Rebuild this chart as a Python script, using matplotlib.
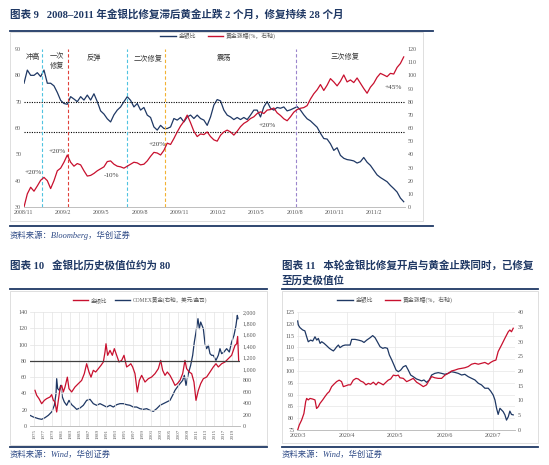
import matplotlib
matplotlib.use('Agg')
import matplotlib.pyplot as plt
from matplotlib.lines import Line2D
from matplotlib.patches import Rectangle
import pandas as pd

plt.rcParams['font.family'] = ['Liberation Serif', 'Noto Sans CJK SC']

NAVY = '#1F3864'
RED = '#C8102E'
GRAY = '#595959'

# ---------------- chart 9 data (weekly readings) ----------------
ratio_9 = [77, 82, 80, 80, 81, 79.5, 82, 77, 77, 76,
           73.5, 70.5, 69.3, 69, 71.9, 71, 70, 71.9, 70.6, 72.5,
           70.6, 73, 70, 66.5, 65.3, 63.5, 62.3, 65, 66.8, 68,
           70, 71.9, 70.5, 68, 69.3, 66.8, 67.8, 64.9, 64, 60.4,
           59.2, 61, 59.8, 59.8, 60.4, 63.6, 63, 64, 62.3, 64.2,
           64.9, 63.6, 64.9, 63.6, 63, 61, 64.2, 68.7, 70.8, 70.3,
           66.8, 64.9, 64.2, 63.2, 64, 63.2, 64, 63.2, 64.9, 66.8,
           66.8, 64.2, 68, 70, 67.5, 66.8, 67.8, 67.5, 68, 66.5,
           66.9, 67.5, 68.1, 66.8, 65, 63.5, 62.7, 61.5, 60.3, 58,
           56, 55.8, 54, 51.5, 52.5, 49.6, 48.5, 48, 47.8, 47.5,
           46.7, 47.2, 48.8, 47, 45.8, 44, 42.2, 41.2, 40.4, 39.6,
           38.2, 37, 35.7, 33.4, 32]
gold_9 = [0, 10, 15, 12, 16, 20.3, 22.5, 20, 14, 20,
          27.5, 29.5, 34, 39.5, 34, 31, 33, 32, 27.5, 23.5,
          24, 25.5, 27.5, 29, 30.5, 34.5, 35, 32.5, 31, 30.5,
          29.5, 31, 32.5, 34, 33.5, 32, 32.5, 35, 38.5, 41.5,
          41, 39.5, 43, 48.5, 47.5, 52, 57, 61.5, 65, 69.8,
          64, 57.5, 53.5, 55.5, 55, 57, 53.5, 51, 50, 54.5,
          57, 58.4, 57, 54.6, 57.5, 61, 63.5, 65, 67.2, 68.5,
          71, 72.3, 71, 73.6, 74, 75.2, 71.5, 69.5, 67, 65.5,
          68.5, 72, 74, 75, 75.5, 77, 82, 86, 89, 93,
          88.5, 92.5, 97.5, 95, 92, 95.5, 100.3, 95, 96.5, 94.5,
          98, 94, 90, 86.4, 91, 94, 98.5, 101.5, 100.3, 99,
          101.5, 101, 106, 109, 114]
dates_9 = pd.date_range('2008-11-01', periods=len(ratio_9), freq='188h')
ticks_9 = ['2008-11-01', '2009-02-01', '2009-05-01', '2009-08-01', '2009-11-01',
           '2010-02-01', '2010-05-01', '2010-08-01', '2010-11-01', '2011-02-01']
ticklabels_9 = ['2008/11', '2009/2', '2009/5', '2009/8', '2009/11',
                '2010/2', '2010/5', '2010/8', '2010/11', '2011/2']
phase_dates_9 = ['2008-12-13', '2009-02-12', '2009-07-01', '2009-09-29', '2010-08-03']
phase_colors_9 = ['#4FC3E0', '#E0403A', '#4FC3E0', '#F2B233', '#9B85CC']
phase_names_9 = [('冲高', '2008-11-22', 87.1), ('一次\n修复', '2009-01-17', 85.8),
                 ('反弹', '2009-04-15', 86.8), ('二次修复', '2009-08-21', 86.5),
                 ('震荡', '2010-02-14', 86.8), ('三次修复', '2010-11-26', 87.1)]
gains_9 = [('+20%', '2008-11-22', 43), ('+20%', '2009-01-18', 51),
           ('-10%', '2009-05-26', 42.1), ('+20%', '2009-09-10', 53.8),
           ('+20%', '2010-05-27', 61.1), ('+45%', '2011-03-20', 75.5)]

# ---------------- chart 10 data ----------------
ratio_10_year = [1975.11, 1975.48, 1976.0, 1976.59, 1977.19, 1977.7, 1978.44, 1978.81,
                 1979.19, 1979.56, 1979.93, 1980.3, 1980.67, 1981.04, 1981.41, 1981.78,
                 1982.3, 1982.67, 1983.26, 1984.0, 1984.74, 1985.48, 1986.07, 1986.59,
                 1987.11, 1987.56, 1988.07, 1988.59, 1989.19, 1989.78, 1990.3, 1990.67,
                 1990.89, 1991.26, 1991.78, 1992.3, 1992.74, 1993.26, 1993.78, 1994.37,
                 1994.89, 1995.48, 1996.0, 1996.4, 1996.81, 1997.33, 1997.85, 1998.3,
                 1998.81, 1999.56, 2000.3, 2001.04, 2001.78, 2002.52, 2003.04, 2003.48,
                 2004.0, 2004.52, 2005.11, 2005.7, 2006.22, 2006.74, 2007.33, 2007.93,
                 2008.44, 2008.81, 2009.41, 2009.93, 2010.44, 2010.89, 2011.41, 2011.93,
                 2012.52, 2013.26, 2014.0, 2014.74, 2015.33, 2015.85, 2016.59, 2017.33,
                 2018.07, 2018.81, 2019.56, 2019.93, 2020.15, 2020.37]
ratio_10 = [43.8, 37.7, 33.6, 27.4, 31.5, 33.6, 35.6, 38.5,
            31.5, 29.5, 17.2, 31.5, 45.8, 49.9, 41.8, 47.9,
            60, 45.8, 41.8, 47.9, 52, 56, 64.3, 76.5,
            66.3, 60, 68.4, 66.3, 70.4, 74.5, 78.6, 90.9,
            101, 86.8, 92.9, 86.8, 95, 86.8, 78.6, 80.6,
            86.8, 72.5, 74.5, 76.5, 72.5, 64.3, 41.8, 56,
            62.2, 54, 58.1, 60.2, 64.3, 70.4, 80.6, 68.4,
            62.2, 66.3, 62.2, 56, 49.9, 52, 56, 64.3,
            80.6, 70.4, 66.3, 64.3, 54, 31.5, 43.8, 52,
            58.1, 60.2, 66.3, 72.5, 76.5, 72.5, 76.5, 78.6,
            82.7, 86.8, 99, 101, 110, 80.6]
gold_10_year = [1974.0, 1974.74, 1975.85, 1976.59, 1977.33, 1978.07, 1978.81, 1979.41,
                1979.78, 1979.93, 1980.15, 1980.52, 1980.81, 1981.19, 1981.63, 1982.15,
                1982.67, 1983.26, 1983.85, 1984.37, 1985.11, 1985.85, 1986.59, 1987.33,
                1988.07, 1988.81, 1989.56, 1990.3, 1991.04, 1991.78, 1992.52, 1993.26,
                1994.0, 1994.74, 1995.48, 1996.22, 1996.96, 1997.7, 1998.44, 1999.19,
                1999.93, 2000.67, 2001.41, 2002.15, 2002.89, 2003.63, 2004.37, 2005.11,
                2005.7, 2006.22, 2006.74, 2007.33, 2007.93, 2008.3, 2008.67, 2009.19,
                2009.7, 2010.15, 2010.52, 2010.89, 2011.33, 2011.63, 2011.93, 2012.22,
                2012.52, 2012.89, 2013.26, 2013.63, 2014.0, 2014.37, 2014.74, 2015.33,
                2015.85, 2016.22, 2016.59, 2017.11, 2017.7, 2018.3, 2018.81, 2019.33,
                2019.78, 2020.07, 2020.22]
gold_10 = [187, 158, 129, 117, 146, 187, 246, 363,
           567, 830, 655, 626, 713, 509, 421, 363,
           450, 374, 333, 292, 316, 363, 450, 468,
           392, 363, 392, 363, 333, 363, 333, 374,
           392, 392, 374, 363, 333, 333, 304, 292,
           304, 275, 257, 304, 363, 392, 421, 450,
           538, 626, 684, 743, 801, 889, 713, 918,
           1064, 1240, 1473, 1649, 1883, 1707, 1824, 1766,
           1707, 1444, 1357, 1415, 1269, 1240, 1240, 1152,
           1240, 1357, 1269, 1298, 1357, 1298, 1473, 1590,
           1766, 1941, 1883]
years_10 = list(range(1975, 2020, 2))

# ---------------- chart 11 data (days after 2020-03-19) ----------------
ratio_11_day = [0, 0.4, 1.4, 3.1, 4.5, 5.6, 6.6, 8.1, 9.4, 10.8, 11.9, 12.9, 14.0, 15.0,
                16.5, 18.1, 19.8, 21.3, 22.3, 23.3, 24.4, 25.4, 26.4, 28.1, 29.6, 32.7,
                33.7, 35.8, 37.9, 40.0, 41.4, 43.1, 45.2, 46.8, 48.3, 49.7, 51.4, 53.1,
                54.5, 56.0, 57.2, 58.7, 60.1, 61.4, 62.8, 64.3, 65.9, 67.5, 69.0, 70.5,
                72.1, 74.2, 75.9, 77.3, 78.8, 80.4, 82.1, 83.6, 85.6, 87.7, 89.8, 91.9,
                93.9, 96.0, 98.1, 100.2, 102.3, 104.3, 106.4, 108.5, 110.6, 112.7, 114.7,
                116.8, 118.9, 120.4, 122.0, 123.1, 124.1, 125.1, 126.2, 127.2, 128.2,
                129.3, 130.3, 131.4, 132.4, 133.4, 134.5]
ratio_11 = [121.2, 119.5, 118.4, 117.4, 117, 114.5, 112.4, 113.1, 112.7, 114.5, 113.1,
            113.8, 111.7, 112.4, 111.7, 110.7, 109.6, 108.9, 108.5, 109.3, 110.3, 111,
            109.9, 110.7, 111, 111, 113.4, 113.4, 113.1, 112.7, 112.1, 113.1, 114.1, 115,
            114.1, 112.4, 110.3, 109.6, 109.9, 109.6, 106.8, 104.7, 102.5, 100.4, 99.7,
            100.4, 101.8, 102.3, 100.4, 98.3, 97.6, 96.6, 96.2, 95.8, 96.2, 95.2, 96.2,
            98.3, 99, 99.3, 99, 98.6, 99, 99.7, 99.4, 99, 98.3, 98.6, 97.6, 96.9, 96.2,
            94.8, 94.1, 92.7, 92.7, 91.5, 89.8, 87.7, 84.2, 81.6, 84.2, 83.5, 82.8, 81.4,
            79.2, 80.6, 83, 81.6, 81.4]
gold_11_day = [0, 1.0, 2.5, 3.9, 5.0, 5.6, 6.6, 7.7, 9.3, 10.8, 11.8, 12.9, 13.9, 15.6,
               17.0, 18.5, 19.7, 21.2, 22.6, 24.3, 25.9, 27.4, 28.5, 30.1, 31.6, 33.0,
               34.7, 36.4, 37.8, 39.3, 41.0, 42.6, 44.1, 45.5, 47.2, 48.9, 50.3, 51.8,
               53.4, 55.1, 56.5, 58.0, 59.7, 61.3, 62.8, 63.8, 65.9, 68.0, 70.0, 72.1,
               74.2, 76.3, 78.4, 80.4, 82.1, 83.6, 85.6, 87.7, 89.8, 91.9, 93.9, 96.0,
               98.1, 100.2, 102.3, 104.3, 106.4, 108.5, 110.6, 112.7, 114.7, 116.8,
               118.9, 120.4, 122.0, 123.7, 125.1, 127.2, 129.3, 131.4, 132.4, 133.4, 134.5]
gold_11 = [0, 1.7, 3.4, 5.6, 9.6, 10.7, 10.2, 10.7, 10.5, 10.2, 7.3, 7.9, 9, 10.2,
           11.3, 12.4, 13, 14.7, 15.5, 16.4, 16.9, 16.4, 14.7, 15, 15.3, 15.3,
           16.9, 17.5, 17.3, 16.6, 16.2, 15.3, 15.8, 15.5, 16.2, 15.3, 16.2, 15.8,
           15.3, 16.2, 16.9, 17.3, 18.6, 18.4, 18.6, 17.7, 17.5, 16.4, 16.9, 17.5,
           16.2, 15.5, 14.7, 15.3, 16.9, 18.1, 17.7, 17.5, 17.5, 18.6, 19.2, 20,
           20.3, 20.7, 20.9, 21.1, 21.5, 22.3, 22.6, 22.3, 22.6, 22.9,
           22.3, 22.9, 23.4, 23.7, 26.6, 28.8, 31.1, 33.3, 33.9, 33.3, 34.5]
start_11 = pd.Timestamp('2020-03-19')
ticks_11 = ['2020-03-19', '2020-04-19', '2020-05-19', '2020-06-19', '2020-07-19']
ticklabels_11 = ['2020/3', '2020/4', '2020/5', '2020/6', '2020/7']

# ---------------- figure layout helpers (pixels) ----------------
W, H = 549, 465
fig = plt.figure(figsize=(W / 100, H / 100), dpi=100)


def rect(l, t, r, b):
    return [l / W, 1 - b / H, (r - l) / W, (b - t) / H]


def hline(x0, x1, y, color=NAVY, lw=1.3):
    fig.add_artist(Line2D([x0 / W, x1 / W], [1 - y / H, 1 - y / H],
                          color=color, lw=lw, transform=fig.transFigure))


def box(l, t, r, b):
    fig.add_artist(Rectangle((l / W, 1 - b / H), (r - l) / W, (b - t) / H, fill=False,
                             ec='#D9D9D9', lw=0.6, transform=fig.transFigure))


def ftext(x, y, s, **kw):
    fig.text(x / W, 1 - y / H, s, transform=fig.transFigure, **kw)


title_kw = dict(fontsize=7.6, fontweight='bold', color=NAVY, va='center', ha='left')
src_kw = dict(fontsize=6, color='#2E4A86', style='italic', va='center', ha='left')


def style_axes(ax, axr):
    for a in (ax, axr):
        for s in ('top', 'left', 'right'):
            a.spines[s].set_visible(False)
        a.spines['bottom'].set_color('#BFBFBF')
        a.spines['bottom'].set_linewidth(0.6)
        a.tick_params(length=0, labelsize=4.3, colors=GRAY, pad=2)


def legend(ax, colors, labels, x, y, size=4.2, spacing=2.0):
    handles = [Line2D([], [], color=c, lw=1) for c in colors]
    ax.legend(handles, labels, loc='center', bbox_to_anchor=(x / W, 1 - y / H),
              bbox_transform=fig.transFigure, ncol=2, frameon=False,
              prop={'size': size}, labelcolor=GRAY, handlelength=2.6,
              columnspacing=spacing, handletextpad=0.5)


# ---------------- chart 9 ----------------
ftext(10, 14, '图表 9   2008–2011 年金银比修复滞后黄金止跌 2 个月，修复持续 28 个月', **title_kw)
hline(10, 433, 31)
box(10, 32, 423, 221)
hline(10, 433, 226)
ftext(10, 235, '资料来源：Bloomberg，华创证券', **src_kw)

ax9 = fig.add_axes(rect(24, 49, 405, 207))
ax9r = ax9.twinx()
ax9.plot(dates_9, ratio_9, color=NAVY, lw=0.9)
ax9r.plot(dates_9, gold_9, color=RED, lw=0.9)
ax9.set_ylim(30, 90)
ax9.set_yticks(range(30, 91, 10))
ax9r.set_ylim(0, 120)
ax9r.set_yticks(range(0, 121, 10))
ax9.set_xlim(pd.Timestamp('2008-11-01'), pd.Timestamp('2011-04-16'))
ax9.set_xticks(pd.to_datetime(ticks_9))
ax9.set_xticklabels(ticklabels_9)
ax9.axhline(70, color='black', ls=(0, (1, 1.2)), lw=0.8)
ax9.axhline(58.5, color='black', ls=(0, (1, 1.2)), lw=0.8)
for d, c in zip(phase_dates_9, phase_colors_9):
    ax9.axvline(pd.Timestamp(d), color=c, ls=(0, (3, 2)), lw=0.8)
for s, d, v in phase_names_9:
    ax9.text(pd.Timestamp(d), v, s, ha='center', va='center', fontsize=5.2,
             color='#333333', linespacing=1.5)
for s, d, v in gains_9:
    ax9.text(pd.Timestamp(d), v, s, ha='center', va='center', fontsize=5.2, color='#404040')
style_axes(ax9, ax9r)
legend(ax9, [NAVY, RED], ['金银比', '黄金涨幅(%，右轴)'], 218, 36)

# ---------------- chart 10 ----------------
ftext(10, 265, '图表 10   金银比历史极值位约为 80', **title_kw)
hline(10, 267, 289)
box(10, 291, 267, 445)
hline(10, 267, 447)
ftext(10, 455, '资料来源：Wind，华创证券', **src_kw)

ax10 = fig.add_axes(rect(30, 312, 240, 426))
ax10r = ax10.twinx()
ax10.plot(ratio_10_year, ratio_10, color=RED, lw=0.9, zorder=3)
ax10r.plot(gold_10_year, gold_10, color=NAVY, lw=0.9)
ax10.set_zorder(ax10r.get_zorder() + 1)
ax10.patch.set_visible(False)
ax10.set_ylim(0, 140)
ax10.set_yticks(range(0, 141, 20))
ax10r.set_ylim(0, 2000)
ax10r.set_yticks(range(0, 2001, 200))
ax10r.set_yticklabels([f'{v:,}' for v in range(0, 2001, 200)])
ax10.set_xlim(1974, 2020.67)
ax10.set_xticks(years_10)
ax10.set_xticklabels([str(y) for y in years_10], rotation=90)
ax10.grid(True, color='#E3E3E3', lw=0.5)
ax10.set_axisbelow(True)
ax10.axhline(80, color='#404040', lw=0.9, zorder=4)
style_axes(ax10, ax10r)
ax10.tick_params(axis='x', labelsize=3.6)
legend(ax10, [RED, NAVY], ['金银比', 'COMEX黄金(右轴，美元/盎司)'], 140, 300,
       size=4.0, spacing=1.5)

# ---------------- chart 11 ----------------
ftext(282, 265, '图表 11   本轮金银比修复开启与黄金止跌同时，已修复', **title_kw)
ftext(282, 281, '至历史极值位', **title_kw)
hline(282, 538, 289)
box(282, 291, 538, 443)
hline(282, 538, 447)
ftext(282, 455, '资料来源：Wind，华创证券', **src_kw)

ax11 = fig.add_axes(rect(297, 312, 515, 430))
ax11r = ax11.twinx()
ax11.plot(start_11 + pd.to_timedelta(ratio_11_day, 'D'), ratio_11, color=NAVY, lw=0.9)
ax11r.plot(start_11 + pd.to_timedelta(gold_11_day, 'D'), gold_11, color=RED, lw=0.9)
ax11.set_ylim(75, 125)
ax11.set_yticks(range(75, 126, 5))
ax11r.set_ylim(0, 40)
ax11r.set_yticks(range(0, 41, 5))
ax11.set_xlim(start_11 - pd.Timedelta(hours=10), start_11 + pd.Timedelta(days=135.6))
ax11.set_xticks(pd.to_datetime(ticks_11))
ax11.set_xticklabels(ticklabels_11)
ax11.grid(True, color='#E6E6E6', lw=0.5)
ax11.set_axisbelow(True)
style_axes(ax11, ax11r)
legend(ax11, [NAVY, RED], ['金银比', '黄金涨幅(%，右轴)'], 395, 300)

fig.savefig('out.png', dpi=100)
